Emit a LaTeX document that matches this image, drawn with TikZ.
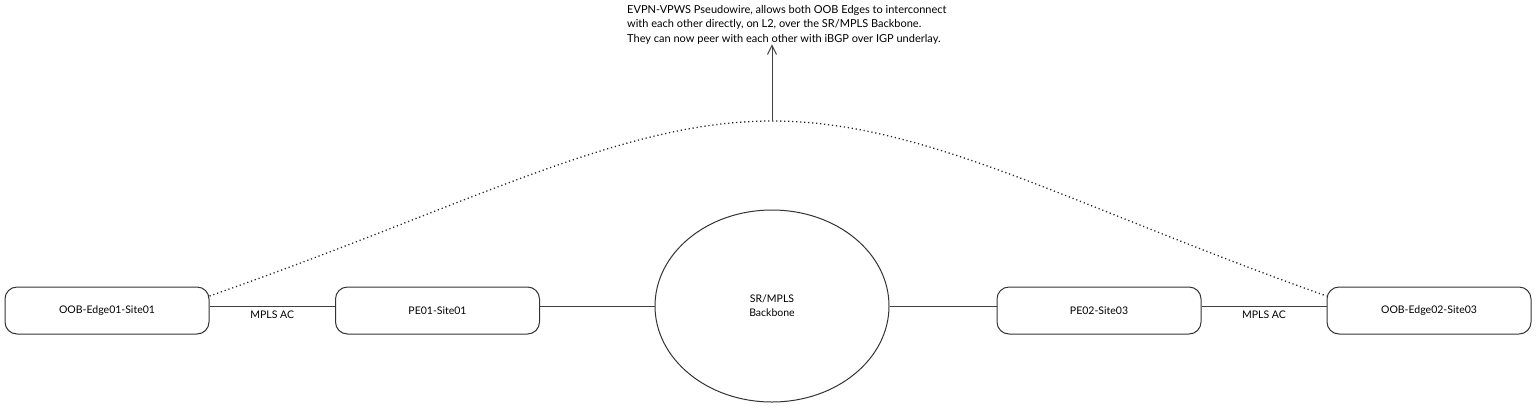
\documentclass[tikz,border=0pt]{standalone}
\usepackage{fontspec}
\setmainfont{Lato}
\usetikzlibrary{positioning,shapes.geometric,calc,arrows.meta}

\tikzset{
  site/.style={draw=black!80, line width=1pt, rounded corners=12pt,
    minimum width=204pt, minimum height=47pt, font=\fontsize{10.5}{13}\selectfont},
  cloud/.style={draw=black!80, ellipse, line width=1pt, minimum width=234pt,
    minimum height=192pt, align=center, font=\fontsize{10.5}{14}\selectfont},
  link/.style={draw=black!75, line width=1pt},
  pw/.style={draw=black!85, line width=1.3pt, dash pattern=on 1.2pt off 2.8pt},
  lbl/.style={font=\fontsize{10.5}{13}\selectfont, inner sep=0pt}
}

\begin{document}
\begin{tikzpicture}[x=1pt,y=-1pt]
            \useasboundingbox (0,0) rectangle (1536,408);
            % sites and backbone
            \node[site] (edge1) at (107,310.5) {OOB-Edge01-Site01};
            \node[site] (pe1) at (437.5,310.5) {PE01-Site01};
            \node[cloud] (core) at (772,306) {SR/MPLS\\Backbone};
            \node[site] (pe2) at (1099,310.5) {PE02-Site03};
            \node[site] (edge2) at (1429,310.5) {OOB-Edge02-Site03};
            % links
            \draw[link] ([yshift=4.5pt]edge1.east) -- node[lbl, below=4pt] {MPLS AC} ([yshift=4.5pt]pe1.west);
            \draw[link] ([yshift=4.5pt]pe1.east) -- (core.west);
            \draw[link] (core.east) -- ([yshift=4.5pt]pe2.west);
            \draw[link] ([yshift=4.5pt]pe2.east) -- node[lbl, below=4pt] {MPLS AC} ([yshift=4.5pt]edge2.west);
            % pseudowire
            \coordinate (peak) at (772,121);
            \draw[pw] ([yshift=14.5pt]edge1.east) .. controls (470,205) and (620,121) .. (peak)
                .. controls (925,121) and (1070,205) .. ([yshift=14.5pt]edge2.west);
            \node[lbl, anchor=north west, align=left, font=\fontsize{11}{14.5}\selectfont] (note) at (627,5)
                {EVPN-VPWS Pseudowire, allows both OOB Edges to interconnect\\
                 with each other directly, on L2, over the SR/MPLS Backbone.\\
                 They can now peer with each other with iBGP over IGP underlay.};
            \draw[link, -{Straight Barb[length=9pt,width=9pt]}] (peak) -- (peak |- note.south);
        \end{tikzpicture}
\end{document}
